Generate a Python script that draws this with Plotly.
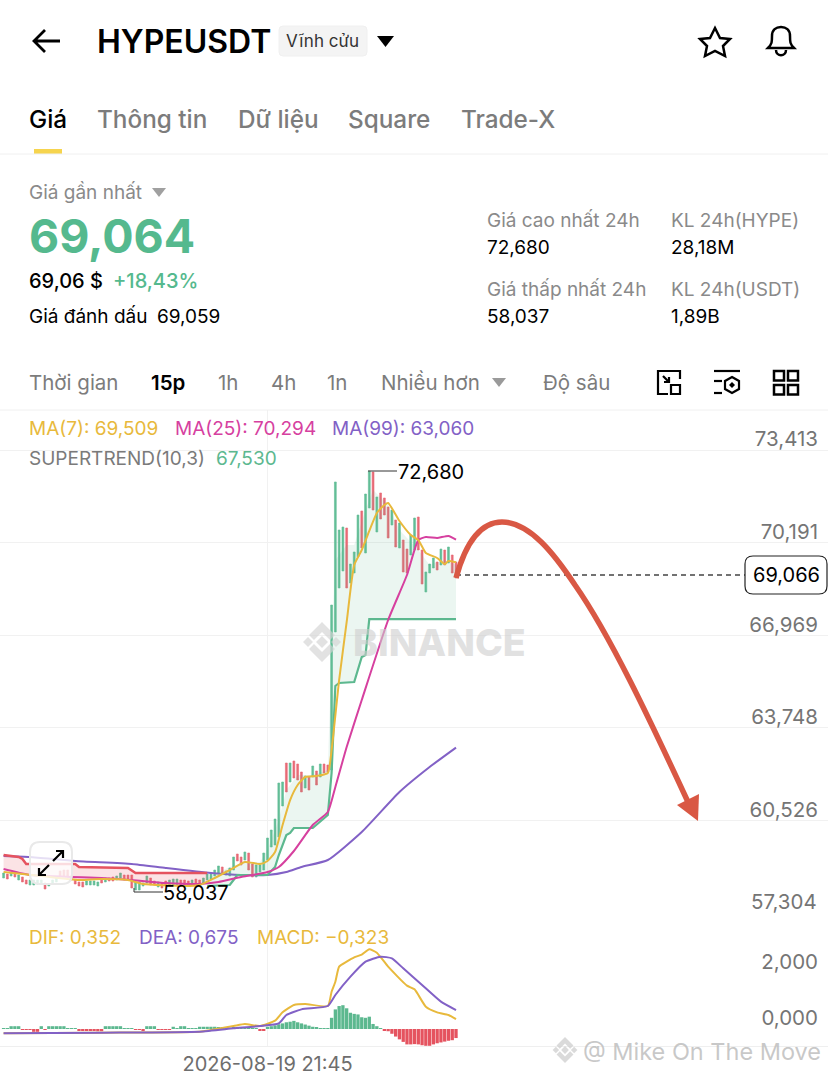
import pandas as pd
import plotly.graph_objects as go

# 15 minute candles, left to right
times = pd.date_range('2026-08-19 04:15', periods=121, freq='15min')

candle_high = [
    58.696, 58.661, 58.696, 58.731, 58.626, 58.557, 58.452, 58.452, 58.452, 58.452, 58.452,
    58.348, 58.313, 58.452, 58.522, 58.766, 58.80, 58.80, 58.592, 58.452, 58.383,
    58.383, 58.418, 58.418, 58.418, 58.383, 58.522, 58.522, 58.522, 58.557, 58.592,
    58.696, 58.626, 58.626, 58.626, 58.383, 58.383, 58.348, 58.592, 58.522, 58.418,
    58.383, 58.348, 58.418, 58.452, 58.487, 58.487, 58.452, 58.452, 58.418, 58.452,
    58.487, 58.452, 58.522, 58.661, 58.696, 58.80, 58.94, 58.905, 58.766, 58.87,
    59.253, 59.357, 59.253, 59.427, 59.392, 59.009, 58.974, 58.974, 59.392, 59.914,
    60.192, 60.575, 61.828, 61.863, 62.524, 62.524, 62.594, 62.489, 62.211, 62.072,
    62.037, 62.42, 62.246, 62.489, 62.489, 62.454, 68.022, 72.303, 70.632, 70.737,
    70.702, 69.449, 69.867, 71.154, 71.294, 71.885, 72.68, 72.65, 71.781, 71.92,
    71.746, 71.433, 71.328, 70.98, 70.876, 70.284, 69.971, 70.458, 71.05, 71.085,
    69.936, 69.171, 69.449, 69.658, 69.519, 69.971, 69.936, 70.041, 69.762, 69.519,
]
candle_low = [
    58.522, 58.487, 58.592, 58.557, 58.452, 58.383, 58.313, 58.278, 58.278, 58.313, 58.313,
    58.139, 58.244, 58.348, 58.383, 58.592, 58.592, 58.592, 58.452, 58.313, 58.244,
    58.209, 58.278, 58.278, 58.278, 58.244, 58.348, 58.383, 58.418, 58.418, 58.452,
    58.522, 58.452, 58.487, 58.174, 58.104, 58.104, 58.244, 58.348, 58.278, 58.278,
    58.209, 58.174, 58.244, 58.278, 58.244, 58.278, 58.278, 58.244, 58.278, 58.313,
    58.348, 58.313, 58.348, 58.452, 58.487, 58.592, 58.696, 58.696, 58.626, 58.592,
    58.80, 59.114, 58.974, 59.148, 58.80, 58.557, 58.557, 58.731, 58.80, 59.148,
    59.6, 59.67, 59.949, 61.028, 61.515, 61.863, 62.002, 61.932, 61.515, 61.654,
    61.584, 62.037, 61.758, 62.037, 62.176, 62.211, 62.28, 67.083, 68.614, 69.206,
    68.614, 68.788, 69.136, 69.693, 70.006, 69.832, 71.398, 71.328, 70.563, 71.015,
    71.154, 70.354, 70.806, 70.041, 70.006, 69.171, 69.136, 69.762, 69.936, 69.936,
    68.753, 68.475, 69.136, 69.31, 69.24, 69.414, 69.414, 69.484, 69.136, 68.962,
]
candle_up = [
    1, 0, 1, 0, 1, 0, 0, 1, 1, 1, 1, 0, 1, 1, 1, 0, 0, 0, 0, 0, 0,
    0, 1, 1, 1, 1, 0, 1, 0, 0, 1,
    1, 0, 0, 0, 1, 1, 1, 1, 0, 0,
    1, 0, 0, 1, 1, 1, 0, 0, 0, 1,
    0, 0, 1, 1, 1, 1, 1, 0, 1, 1,
    1, 0, 0, 1, 0, 0, 1, 1, 1, 1,
    1, 1, 1, 1, 0, 1, 0, 0, 0, 1,
    0, 1, 0, 1, 0, 0, 1, 1, 1, 1,
    0, 1, 1, 1, 0, 1, 1, 0, 1, 0,
    0, 0, 1, 0, 1, 0, 0, 1, 1, 0,
    0, 1, 1, 1, 0, 1, 0, 1, 0, 0,
]

# indicator lines, read at the candles where they bend
ma7_at = [0, 10, 20, 26, 33, 37, 48, 52, 56, 60, 64, 68, 70, 72, 74, 76, 78, 80, 83, 86, 87, 89, 91, 93, 95, 97, 99, 101, 102, 105, 108, 110, 112, 115, 117, 118, 120]
ma7 = [58.731, 58.592, 58.452, 58.487, 58.452, 58.313, 58.244, 58.278, 58.522, 58.80, 59.079, 59.009, 59.114, 59.427, 60.366, 61.236, 61.758, 62.037, 62.072, 62.176, 62.976, 65.412, 67.431, 69.414, 69.936, 70.598, 71.224, 71.502, 71.572, 70.946, 70.458, 70.284, 69.832, 69.658, 69.449, 69.554, 69.509]
ma25_at = [0, 7, 26, 34, 43, 52, 57, 63, 66, 70, 73, 77, 82, 86, 88, 91, 95, 102, 107, 110, 112, 115, 118, 120]
ma25 = [58.835, 58.626, 58.522, 58.452, 58.348, 58.313, 58.383, 58.557, 58.626, 58.731, 58.905, 59.462, 60.366, 60.819, 61.689, 63.081, 64.716, 67.50, 69.066, 70.284, 70.388, 70.354, 70.424, 70.294]
ma99_at = [0, 7, 19, 34, 43, 55, 63, 70, 75, 79, 86, 95, 105, 113, 120]
ma99 = [59.288, 59.253, 59.114, 59.009, 58.87, 58.696, 58.626, 58.626, 58.731, 58.905, 59.148, 60.123, 61.515, 62.385, 63.06]

st_down_at = [0, 4, 5, 6, 19, 20, 33, 35, 54]
st_down = [59.322, 59.253, 59.183, 59.009, 59.009, 58.905, 58.87, 58.696, 58.696]
st_down_edge_at = [0, 6, 15, 20, 33, 36, 54]
st_down_edge = [58.80, 58.661, 58.522, 58.452, 58.522, 58.313, 58.313]

st_up_at = [54, 60, 61, 62, 70, 72, 73, 75, 76, 77, 82, 86, 87, 88, 89, 93, 95, 96, 97, 120]
st_up = [58.244, 58.278, 58.452, 58.626, 58.626, 58.905, 59.322, 60.018, 60.088, 60.262, 60.262, 60.714, 62.176, 65.204, 65.308, 65.343, 66.213, 66.282, 67.53, 67.53]
st_up_edge_at = [54, 60, 64, 68, 70, 73, 75, 78, 82, 86, 87, 88, 91, 93, 96, 98, 102, 105, 110, 113, 117, 120]
st_up_edge = [58.522, 58.905, 59.079, 59.079, 59.496, 60.54, 61.584, 62.106, 62.106, 62.28, 66.456, 69.588, 70.11, 70.11, 71.328, 72.024, 71.502, 70.632, 69.936, 69.414, 69.588, 69.414]

dif_at = [0, 26, 52, 55, 61, 64, 68, 72, 74, 77, 80, 86, 87, 88, 89, 91, 93, 95, 97, 99, 102, 107, 109, 112, 115, 118, 120]
dif = [-0.155, -0.13, -0.095, -0.036, 0.107, 0.179, 0.107, 0.298, 0.595, 0.857, 0.893, 0.821, 1.333, 1.69, 2.226, 2.405, 2.56, 2.655, 2.845, 2.726, 2.226, 1.548, 1.417, 0.798, 0.595, 0.50, 0.352]
dea_at = [0, 26, 52, 61, 68, 73, 75, 79, 86, 88, 92, 96, 100, 103, 106, 111, 116, 120]
dea = [-0.155, -0.13, -0.095, 0.024, 0.107, 0.20, 0.50, 0.702, 0.821, 1.214, 1.869, 2.405, 2.583, 2.524, 2.167, 1.571, 0.976, 0.675]
macd_hist = [
    0.02, 0.02, 0.10, 0.10, 0.10, -0.03, -0.03, -0.03, -0.10, -0.10, 0.10, -0.03,
    0.10, 0.10, 0.10, 0.10, 0.10, 0.03, 0.03, 0.03, -0.04, -0.04, -0.04, -0.05, -0.05,
    -0.08, -0.08, 0.10, 0.10, 0.10, 0.10, 0.10, 0.03, 0.03, 0.03, -0.03, -0.03, -0.05,
    0.10, 0.10, 0.10, -0.03, -0.03, -0.03, -0.03, 0.08, 0.02, 0.10, 0.10, 0.03, 0.03, 0.03,
    0.08, 0.08, 0.08, 0.08, 0.08, 0.04, 0.04, 0.03, 0.03, 0.06, 0.06, 0.06, 0.03, 0.03, 0.03, 0.02,
    -0.04, -0.04, 0.08, 0.10, 0.13, 0.17, 0.20, 0.24, 0.26, 0.29, 0.24, 0.20, 0.16, 0.12, 0.08, 0.05, 0.03, 0.02, 0.02,
    0.40, 0.70, 0.82, 0.85, 0.74, 0.58, 0.54, 0.52, 0.42, 0.40, 0.44, 0.18, 0.10, 0.02,
    -0.04, -0.08, -0.17, -0.27, -0.37, -0.46, -0.55, -0.55, -0.54, -0.55, -0.58, -0.60, -0.60, -0.55, -0.51, -0.48, -0.45, -0.42, -0.40, -0.323,
]

# the axis hides a label sitting on its range end, so 57,304 is written separately
price_ticks = [73.413, 70.191, 66.969, 63.748, 60.526, 57.304]
price_tick_labels = ['73,413', '70,191', '66,969', '63,748', '60,526', '']
macd_ticks = [2.0, 0.0]
macd_tick_labels = ['2,000', '0,000']

GREEN = '#5CB88F'
RED = '#E5535F'
CANDLE_GREEN = '#63BE97'
CANDLE_RED = '#E86A76'
YELLOW = '#E8B93C'
PINK = '#D6409F'
PURPLE = '#8261C6'
FONT = 'Inter'
GRID = '#F1F1F1'


def at(idx):
    return [times[i] for i in idx]


def curve(color):
    return dict(color=color, width=2, shape='spline', smoothing=0.5)


fig = go.Figure()

# MA99 goes under the supertrend on the left side
fig.add_trace(go.Scatter(x=at(ma99_at), y=ma99, mode='lines', line=curve(PURPLE)))

# supertrend bands
fig.add_trace(go.Scatter(x=at(st_down_edge_at), y=st_down_edge, mode='lines', line=dict(width=0, color='rgba(0,0,0,0)')))
fig.add_trace(go.Scatter(x=at(st_down_at), y=st_down, mode='lines', line=dict(color=RED, width=2.5),
                         fill='tonexty', fillcolor='rgba(229,83,95,0.16)'))
fig.add_trace(go.Scatter(x=at(st_up_edge_at), y=st_up_edge, mode='lines', line=dict(width=0, color='rgba(0,0,0,0)')))
fig.add_trace(go.Scatter(x=at(st_up_at), y=st_up, mode='lines', line=dict(color=GREEN, width=2.2),
                         fill='tonexty', fillcolor='rgba(92,184,143,0.12)'))

fig.add_trace(go.Candlestick(
    x=times,
    open=[l if u else h for h, l, u in zip(candle_high, candle_low, candle_up)],
    close=[h if u else l for h, l, u in zip(candle_high, candle_low, candle_up)],
    high=candle_high,
    low=candle_low,
    increasing=dict(line=dict(color=CANDLE_GREEN, width=0.6), fillcolor=CANDLE_GREEN),
    decreasing=dict(line=dict(color=CANDLE_RED, width=0.6), fillcolor=CANDLE_RED),
))

fig.add_trace(go.Scatter(x=at(ma25_at), y=ma25, mode='lines', line=curve(PINK)))
fig.add_trace(go.Scatter(x=at(ma7_at), y=ma7, mode='lines', line=curve(YELLOW)))

# MACD pane
fig.add_trace(go.Bar(x=times, y=macd_hist, yaxis='y2',
                     marker=dict(color=[GREEN if v >= 0 else RED for v in macd_hist], line_width=0)))
fig.add_trace(go.Scatter(x=at(dif_at), y=dif, yaxis='y2', mode='lines', line=curve(YELLOW)))
fig.add_trace(go.Scatter(x=at(dea_at), y=dea, yaxis='y2', mode='lines', line=curve(PURPLE)))

# empty trace that holds the page overlay axes (range is the page in px)
fig.add_trace(go.Scatter(x=[], y=[], xaxis='x3', yaxis='y3'))

shapes = []
annotations = []


def label(x, y, text, size=19, color='#000000', weight=400, anchor='left', opacity=1):
    if anchor == 'left':
        x -= 1.5
    annotations.append(dict(x=x, y=y, xref='x3', yref='y3', text=text, showarrow=False, xanchor=anchor,
                            yanchor='middle', opacity=opacity, borderpad=0,
                            font=dict(family=FONT, size=size, color=color, weight=weight)))


def stroke(path, color='#000000', width=2.5, fill=None):
    shapes.append(dict(type='path', path=path, xref='x3', yref='y3', layer='above',
                       line=dict(color=color, width=width), fillcolor=fill or 'rgba(0,0,0,0)'))


def solid(path, color):
    shapes.append(dict(type='path', path=path, xref='x3', yref='y3', layer='above',
                       line=dict(width=0), fillcolor=color))


def logo(cx, cy, s, color):
    def poly(pts):
        return 'M ' + ' L '.join(f'{cx + a * s} {cy + b * s}' for a, b in pts) + ' Z'
    solid(poly([(0, -20), (13, -7), (8, -2), (0, -10), (-8, -2), (-13, -7)]), color)
    solid(poly([(0, 20), (13, 7), (8, 2), (0, 10), (-8, 2), (-13, 7)]), color)
    solid(poly([(0, -6), (6, 0), (0, 6), (-6, 0)]), color)
    solid(poly([(-14, -5), (-9, 0), (-14, 5), (-19, 0)]), color)
    solid(poly([(14, -5), (19, 0), (14, 5), (9, 0)]), color)


# header
stroke('M 60 41 L 34 41 M 45 30 L 34 41 L 45 52', width=2.8)
label(97, 41, 'HYPEUSDT', size=32, weight=600)
stroke('M 283 26 L 363 26 Q 367 26 367 30 L 367 52 Q 367 56 363 56 L 283 56 Q 279 56 279 52 L 279 30 Q 279 26 283 26 Z',
       color='#F0F0F0', width=1, fill='#F4F4F4')
label(286, 41, 'Vĩnh cửu', size=17, color='#333333')
solid('M 377 36 L 394 36 L 385.5 47 Z', '#000000')
stroke('M 715 28 L 720 38 L 730 39 L 723 46 L 725 56 L 715 51 L 705 56 L 707 46 L 700 39 L 710 38 Z')
stroke('M 768 48 C 772 44 772 42 772 36 C 772 30 776 27 781 27 C 786 27 790 30 790 36 C 790 42 790 44 794 48 Z M 776 50 C 776 57 786 57 786 50')

# tabs
label(29, 119, 'Giá', size=24.3, weight=500)
for tab_x, tab in zip([97, 238, 348, 461], ['Thông tin', 'Dữ liệu', 'Square', 'Trade-X']):
    label(tab_x, 119, tab, size=24.3, color='#7C7C7C', weight=500)
solid('M 34 149 L 62 149 L 62 154 L 34 154 Z', '#F6D44E')
stroke('M 0 154 L 828 154', color='#F0F0F0', width=1)

# price block
label(29, 192, 'Giá gần nhất', size=19, color='#8A8A8A')
solid('M 152 188 L 166 188 L 159 197 Z', '#A0A0A0')
label(29, 236, '69,064', size=46.5, color='#55B98E', weight=700)
label(29, 281, '69,06 $', size=20, weight=500)
label(113, 281, '+18,43%', size=20, color='#55B98E', weight=500)
label(29, 316, 'Giá đánh dấu', size=19)
label(157, 316, '69,059', size=19)
label(487, 220, 'Giá cao nhất 24h', size=19, color='#8A8A8A')
label(487, 247, '72,680', size=19)
label(671, 220, 'KL 24h(HYPE)', size=19, color='#8A8A8A')
label(671, 247, '28,18M', size=19)
label(487, 289, 'Giá thấp nhất 24h', size=19, color='#8A8A8A')
label(487, 316, '58,037', size=19)
label(671, 289, 'KL 24h(USDT)', size=19, color='#8A8A8A')
label(671, 316, '1,89B', size=19)

# interval bar
for bar_x, bar_text in zip([29, 218, 271, 327, 381, 543], ['Thời gian', '1h', '4h', '1n', 'Nhiều hơn', 'Độ sâu']):
    label(bar_x, 382, bar_text, size=20.5, color='#7C7C7C')
label(151, 382, '15p', size=20.5, weight=600)
solid('M 492 378 L 506 378 L 499 387 Z', '#9A9A9A')
stroke('M 680 379 L 680 371 L 658 371 L 658 394 L 668 394', width=2.2)
stroke('M 671 385 L 680 385 L 680 394 L 671 394 Z', width=2.2)
stroke('M 663 376 L 669 382', width=2.2)
stroke('M 669 377 L 669 382 L 664 382', width=2.2)
stroke('M 714 371 L 740 371', width=2.2)
stroke('M 714 381 L 722 381', width=2.2)
stroke('M 714 393 L 722 393', width=2.2)
stroke('M 732 377 L 739 381 L 739 389 L 732 393 L 725 389 L 725 381 Z', width=2.2)
solid('M 732 382 L 735 385 L 732 388 L 729 385 Z', '#000000')
for sq_x, sq_y in [(774, 371), (788, 371), (774, 385), (788, 385)]:
    stroke(f'M {sq_x} {sq_y} L {sq_x + 10} {sq_y} L {sq_x + 10} {sq_y + 9.5} L {sq_x} {sq_y + 9.5} Z')
stroke('M 0 410 L 828 410', color='#F0F0F0', width=1)

# legends
label(29, 428, 'MA(7): 69,509', size=19, color=YELLOW)
label(175, 428, 'MA(25): 70,294', size=19, color=PINK)
label(332, 428, 'MA(99): 63,060', size=19, color=PURPLE)
label(29, 458, 'SUPERTREND(10,3)', size=19, color='#7A7A7A')
label(216, 458, '67,530', size=19, color=GREEN)
label(29, 937, 'DIF: 0,352', size=19, color=YELLOW)
label(139, 937, 'DEA: 0,675', size=19, color=PURPLE)
label(257, 937, 'MACD: −0,323', size=19, color=YELLOW)
label(818, 901, '57,304', size=20.5, color='#757575', anchor='right')

# high / low callouts
stroke('M 368 471 L 397 471', color='#333333', width=1)
label(398, 472, '72,680', size=20)
stroke('M 134 888 L 134 892 L 163 892', color='#333333', width=1)
label(163, 893, '58,037', size=20)

# watermarks
logo(322, 642, 1.0, 'rgba(210,210,210,0.65)')
label(353, 642, 'BINANCE', size=37.5, color='rgba(205,205,205,0.6)', weight=800)
logo(565, 1050, 0.65, 'rgba(205,205,205,0.75)')
label(583, 1051, '@ Mike On The Move', size=23.5, color='rgba(190,190,190,0.85)')

# last price tag
stroke('M 456 575 L 745 575', color='#444444', width=1.3)
shapes[-1]['line']['dash'] = '5px,4px'
stroke('M 753 556 L 819 556 Q 827 556 827 564 L 827 586 Q 827 594 819 594 L 753 594 Q 745 594 745 586 L 745 564 Q 745 556 753 556 Z',
       color='#222222', width=1.2, fill='#FFFFFF')
label(786, 575, '69,066', size=20, anchor='center')

# expand button over the left candles
stroke('M 40 842 L 62 842 Q 72 842 72 852 L 72 874 Q 72 884 62 884 L 40 884 Q 30 884 30 874 L 30 852 Q 30 842 40 842 Z',
       color='#E9E9E9', width=2, fill='rgba(255,255,255,0.8)')
stroke('M 53 861 L 63 851 M 56 851 L 63 851 L 63 858 M 49 865 L 39 875 M 39 868 L 39 875 L 46 875', width=2.2)

# hand drawn red arrow
stroke('M 456 578 C 465 545 480 522 502 522 C 530 522 555 555 575 585 C 610 635 650 720 688 802', color='#D95844', width=5.5)
solid('M 677 805 L 699 794 L 698 821 Z', '#D95844')

fig.update_layout(
    width=828,
    height=1076,
    margin=dict(l=0, r=0, t=0, b=0),
    paper_bgcolor='white',
    plot_bgcolor='rgba(0,0,0,0)',
    showlegend=False,
    hovermode=False,
    bargap=0.12,
    font=dict(family=FONT),
    shapes=shapes,
    annotations=annotations,
    xaxis=dict(
        domain=[0, 1],
        anchor='y2',
        range=['2026-08-19 04:00:45', '2026-08-21 10:55:00'],
        rangeslider=dict(visible=False),
        tickvals=['2026-08-19 21:45'],
        tickformat='%Y-%m-%d %H:%M',
        tickfont=dict(size=20, color='#6E6E6E'),
        ticks='',
        showgrid=True,
        gridcolor=GRID,
        showline=True,
        linecolor='#EFEFEF',
        zeroline=False,
    ),
    yaxis=dict(
        domain=[1 - 913 / 1076, 1 - 410 / 1076],
        range=[57.304, 74.808],
        side='right',
        tickvals=price_ticks,
        ticktext=price_tick_labels,
        ticklabelposition='inside top',
        ticklabelstandoff=7,
        ticklabelshift=4,
        tickfont=dict(size=20.5, color='#757575'),
        ticks='inside',
        ticklen=8,
        tickcolor='rgba(0,0,0,0)',
        gridcolor=GRID,
        zeroline=False,
    ),
    yaxis2=dict(
        domain=[1 - 1046 / 1076, 1 - 913 / 1076],
        range=[-0.607, 4.143],
        side='right',
        tickvals=macd_ticks,
        ticktext=macd_tick_labels,
        ticklabelposition='inside top',
        ticklabelstandoff=7,
        ticklabelshift=4,
        tickfont=dict(size=20.5, color='#757575'),
        ticks='inside',
        ticklen=8,
        tickcolor='rgba(0,0,0,0)',
        showgrid=False,
        zeroline=False,
    ),
    xaxis3=dict(domain=[0, 1], range=[0, 828], visible=False, anchor='y3'),
    yaxis3=dict(domain=[0, 1], range=[1076, 0], visible=False, anchor='x3'),
)

fig.write_html('out.html', config=dict(displayModeBar=False),
               post_script="document.body.style.margin='0';document.body.style.overflow='hidden';")
